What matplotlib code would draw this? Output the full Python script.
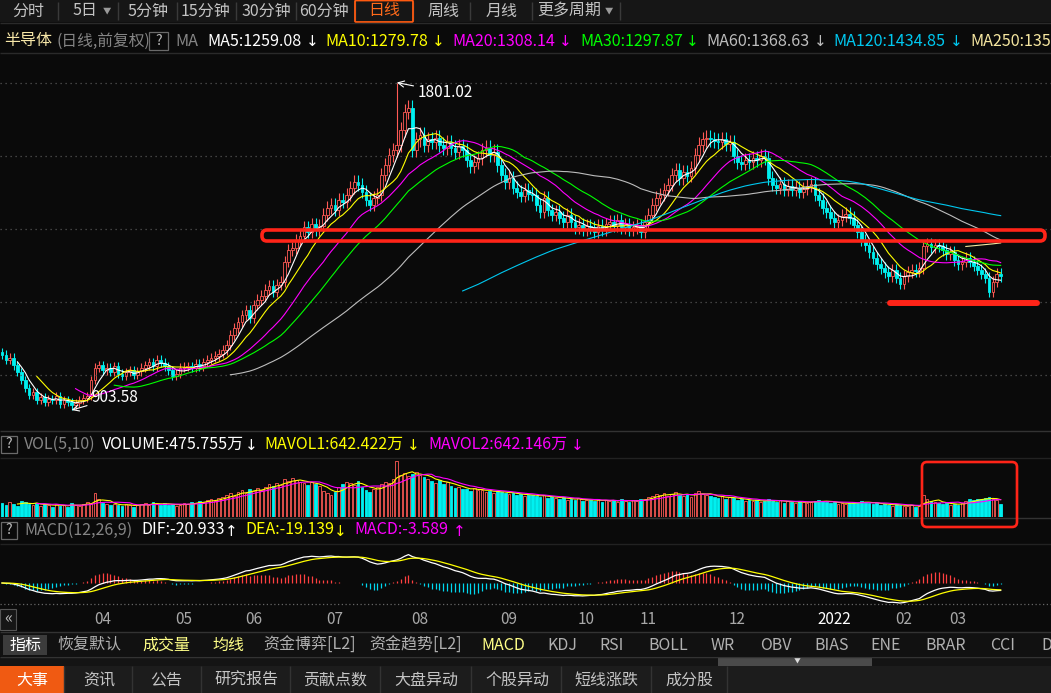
import matplotlib
matplotlib.use("Agg")
import matplotlib.pyplot as plt
from matplotlib.patches import Rectangle, FancyBboxPatch
from matplotlib.lines import Line2D
import numpy as np
import pandas as pd

plt.rcParams['font.family'] = ['Noto Sans CJK SC', 'DejaVu Sans']

#####  data  #####

# daily closes of the index, one per trading day (Mar 2021 - Mar 2022)
closes = [1055, 1041, 1047, 1027, 1008,
          986, 964, 945, 953,
          931, 940, 926,
          934, 931, 942, 920, 931, 926, 917, 923,
          931, 937, 942,
          986, 1019, 1027,
          1013, 1019, 1008, 1024,
          1003, 997, 1008, 1013, 1000, 1010,
          1019, 1027, 1035, 1024, 1041, 1033, 1024,
          1013, 997, 1003, 1019,
          1022, 1024, 1019, 1030, 1024,
          1035, 1041, 1047, 1052, 1058, 1068,
          1082, 1110, 1129,
          1145, 1164, 1178, 1156,
          1192, 1206, 1217,
          1233, 1244, 1228, 1247, 1255,
          1310, 1343, 1348,
          1370, 1381,
          1404, 1392, 1414, 1398, 1409,
          1439, 1458, 1466, 1452,
          1480, 1474, 1494,
          1513, 1529, 1521, 1502,
          1480, 1466, 1485, 1494,
          1549, 1576, 1603,
          1617, 1631, 1672, 1721, 1732,
          1617, 1645, 1658, 1631, 1645,
          1639, 1650, 1631, 1623, 1639,
          1623, 1612, 1628, 1617,
          1590, 1573, 1584, 1595,
          1617, 1623, 1603, 1612,
          1576, 1549, 1529, 1540,
          1513, 1502, 1491, 1507, 1496,
          1494, 1466, 1447, 1485, 1452, 1439,
          1447, 1431, 1420, 1439,
          1420, 1404, 1412, 1398, 1409,
          1404, 1392, 1409, 1398, 1414,
          1420, 1409, 1425, 1404, 1414,
          1398, 1404, 1409, 1392,
          1420, 1439,
          1466, 1485,
          1494, 1507, 1521,
          1549, 1562,
          1540, 1557, 1546, 1568,
          1603, 1631, 1645,
          1650, 1645,
          1642, 1639, 1645, 1634, 1639,
          1601,
          1584, 1579, 1590, 1584,
          1595, 1590, 1601, 1595,
          1540,
          1521, 1513, 1524, 1507, 1518,
          1507, 1513, 1502, 1510, 1518,
          1524, 1494, 1480,
          1458, 1447,
          1431, 1420, 1425, 1436,
          1442, 1431,
          1411, 1392, 1370,
          1356, 1337,
          1321, 1304, 1293,
          1282, 1271, 1288, 1266,
          1249, 1271,
          1282, 1288, 1285, 1293,
          1354,
          1359, 1351, 1356, 1354,
          1343, 1332, 1337,
          1315, 1304, 1310,
          1321, 1310, 1299,
          1288, 1277, 1266,
          1228,
          1255,
          1277, 1271]
first_open = 1062
marked_high = (102, 1801.02)
marked_low = (18, 903.58)

# daily volume, in 万
volumes = [518, 444, 555, 481, 407, 592,
           555, 481, 444, 518, 407, 481,
           444, 370, 481, 407, 444, 370, 518, 444,
           407, 481, 555,
           518, 888, 666, 518, 481, 444, 481,
           444, 407, 481, 444, 370, 444,
           481, 518, 444, 555, 481, 444, 518,
           444, 481, 407, 444,
           518, 481, 555, 518, 592,
           555, 629, 666, 592, 703, 740,
           814, 888, 777,
           925, 999, 888, 1036,
           962, 1073, 999,
           1110, 1221, 1147, 1258, 1184,
           1406, 1332, 1443,
           1369, 1295,
           1258, 1184, 1295, 1221, 1147,
           962, 888, 814, 925,
           1110, 1221, 1295,
           1258, 1184, 1332, 1110,
           999, 925, 1036, 1110,
           1221, 1295, 1258,
           1406, 2072, 1554,
           1628, 1517, 1591,
           1665, 1554,
           1480, 1406,
           1332, 1258, 1369, 1221, 1295,
           1147, 1073, 1110, 1036,
           1036, 962, 1073, 999,
           999, 925, 962, 888,
           962, 925, 888, 851,
           888, 814, 851, 777, 814,
           814, 777, 740, 814, 703, 740,
           703, 666, 740, 629,
           666, 629, 703, 592, 629,
           629, 592, 666, 555, 629,
           592, 629, 555, 666, 592,
           555, 629, 592, 666,
           666, 740,
           777, 851,
           814, 888, 777,
           851, 925,
           814, 777, 851, 740,
           888, 962, 851,
           814, 777,
           740, 703, 777, 666, 740,
           703,
           629, 666, 592, 629,
           592, 629, 555, 592,
           666,
           592, 555, 629, 518, 592,
           555, 518, 592, 555, 518,
           555, 592, 629,
           592, 555,
           518, 555, 481, 518,
           481, 518,
           555, 518, 592,
           555, 518,
           481, 518, 444,
           481, 444, 407, 481,
           444, 407,
           407, 444, 370, 407,
           814,
           666, 592, 555, 518,
           481, 518, 444,
           481, 444, 518,
           592, 666, 629, 666, 657,
           703, 740, 666, 627, 475.755]

month_ticks = [26, 47, 65, 86, 108, 131, 151, 167, 190, 215, 233, 247]
month_labels = ["04", "05", "06", "07", "08", "09", "10", "11", "12", "2022", "02", "03"]

ma_periods = [5, 10, 20, 30, 60, 120, 250]
ma_colors = ["#ffffff", "#ffff00", "#ff00ff", "#00ff00", "#bdbdbd", "#00c8f0", "#f5e6a0"]

top_tabs = ["分时", "5日", "5分钟", "15分钟", "30分钟", "60分钟", "日线", "周线", "月线", "更多周期"]
top_tab_x = [28, 85, 148, 206, 266, 324, 384, 443, 502, 569]
top_tab_seps = [58, 118, 177, 236, 296, 355, 413, 470, 532, 620]

ind_tabs = ["恢复默认", "成交量", "均线", "资金博弈[L2]", "资金趋势[L2]", "MACD", "KDJ", "RSI",
            "BOLL", "WR", "OBV", "BIAS", "ENE", "BRAR", "CCI", "D"]
ind_tab_x = [89, 166, 228, 309, 416, 503, 562, 612, 668, 723, 776, 832, 886, 946, 1003, 1047]
ind_yellow = ["成交量", "均线", "MACD"]

bottom_tabs = ["资讯", "公告", "研究报告", "贡献点数", "大盘异动", "个股异动", "短线涨跌", "成分股"]
bottom_tab_x = [99, 166, 246, 335, 426, 517, 606, 689]
bottom_tab_seps = [64, 132, 201, 290, 380, 471, 561, 651, 727]

assert len(closes) == len(volumes)

#####  derived series  #####

c = pd.Series(closes, dtype=float)
o = pd.Series([first_open] + closes[:-1], dtype=float)
up = (c >= o).values
hi = np.maximum(o, c) * 1.012
lo = np.minimum(o, c) * 0.988
hi[marked_high[0]] = marked_high[1]
lo[marked_low[0]] = marked_low[1]
days = np.arange(len(c))

v = pd.Series(volumes, dtype=float)
ema12 = c.ewm(span=12, adjust=False).mean()
ema26 = c.ewm(span=26, adjust=False).mean()
dif = ema12 - ema26
dea = dif.ewm(span=9, adjust=False).mean()
macd = 2 * (dif - dea)

#####  figure helpers (pixel coords of the screenshot)  #####

W, H = 1051, 693
BG = "#0a0a0a"
RED = "#ff5a55"
CYAN = "#00f0f0"
fig = plt.figure(figsize=(W / 100, H / 100), dpi=100, facecolor=BG)


def fx(x):
    return x / W


def fy(y):
    return 1 - y / H


def box(x0, y0, x1, y1, fc, ec="none", lw=0):
    fig.add_artist(Rectangle((fx(x0), fy(y1)), fx(x1) - fx(x0), fy(y0) - fy(y1),
                             transform=fig.transFigure, facecolor=fc, edgecolor=ec, linewidth=lw))


def rbox(x0, y0, x1, y1, ec, lw, r=5):
    fig.add_artist(FancyBboxPatch((fx(x0), fy(y1)), fx(x1) - fx(x0), fy(y0) - fy(y1),
                                  boxstyle="round,pad=0,rounding_size=%f" % (r / W),
                                  mutation_aspect=W / H, transform=fig.transFigure,
                                  facecolor="none", edgecolor=ec, linewidth=lw, zorder=20))


def line(x0, y0, x1, y1, color="#2e2e2e", lw=1, ls="-", cap="butt"):
    fig.add_artist(Line2D([fx(x0), fx(x1)], [fy(y0), fy(y1)], transform=fig.transFigure,
                          color=color, lw=lw, linestyle=ls, solid_capstyle=cap, zorder=20))


def txt(x, y, s, color, size=11, ha="left"):
    fig.text(fx(x), fy(y), s, color=color, fontsize=size, ha=ha, va="center")


def arrow(x, y, s, color):
    # the little up/down arrows after each legend value
    fig.text(fx(x), fy(y), s, color=color, fontsize=11, ha="center", va="center",
             family="DejaVu Sans")


def panel(y0, y1):
    ax = fig.add_axes([0, fy(y1), 1, fy(y0) - fy(y1)])
    ax.set_facecolor(BG)
    for sp in ax.spines.values():
        sp.set_visible(False)
    ax.set_xticks([])
    ax.set_yticks([])
    ax.set_xlim(-0.52, 271)
    return ax


#####  price panel  #####

ax_p = panel(53, 430)
ax_p.set_ylim(849, 1882)
for lvl in [1000, 1200, 1400, 1600, 1800]:
    ax_p.axhline(lvl, color="#555555", lw=0.9, ls=(0, (1, 3)))

body_lo = np.minimum(o, c).values
body_hi = np.maximum(o, c).values
body_h = np.maximum(body_hi - body_lo, 1.5)
for is_up, col in [(True, RED), (False, CYAN)]:
    m = up == is_up
    ax_p.vlines(days[m], hi[m], body_hi[m], color=col, lw=0.8)
    ax_p.vlines(days[m], lo[m], body_lo[m], color=col, lw=0.8)
    ax_p.bar(days[m], body_h[m], bottom=body_lo[m], width=0.7,
             facecolor=BG if is_up else col, edgecolor=col, linewidth=0.6)

for n, col in zip(ma_periods, ma_colors):
    ax_p.plot(days, c.rolling(n).mean(), color=col, lw=0.8)

ax_p.annotate("1801.02", xy=marked_high, xytext=(15, -7), textcoords="offset points",
              color="white", fontsize=11, va="center", ha="left",
              arrowprops=dict(arrowstyle="->", color="white", lw=0.8, shrinkA=1, shrinkB=0))
ax_p.annotate("903.58", xy=marked_low, xytext=(14, 9), textcoords="offset points",
              color="white", fontsize=11, va="center", ha="left",
              arrowprops=dict(arrowstyle="->", color="white", lw=0.8, shrinkA=1, shrinkB=0))

#####  volume panel  #####

ax_v = panel(458, 517)
ax_v.set_ylim(0, 2183)
for is_up, col in [(True, RED), (False, CYAN)]:
    m = up == is_up
    ax_v.bar(days[m], v[m], width=0.7, facecolor=BG if is_up else col,
             edgecolor=col, linewidth=0.6)
ax_v.plot(days, v.rolling(5).mean(), color="#ffff00", lw=0.8)
ax_v.plot(days, v.rolling(10).mean(), color="#ff00ff", lw=0.8)

#####  MACD panel  #####

ax_m = panel(545, 605)
unit = max(dif.max() / 35, -dif.min() / 20, dea.max() / 35, -dea.min() / 20)
ax_m.set_ylim(-22 * unit, 38 * unit)
ax_m.vlines(days[macd >= 0], 0, macd[macd >= 0], color="#ff4040", lw=0.9)
ax_m.vlines(days[macd < 0], 0, macd[macd < 0], color="#00d8f0", lw=0.9)
ax_m.plot(days, dif, color="white", lw=0.9)
ax_m.plot(days, dea, color="#ffff00", lw=0.9)

#####  x axis labels row  #####

ax_x = panel(606, 632)
ax_x.set_ylim(0, 1)
for t, lab in zip(month_ticks, month_labels):
    ax_x.text(t, 0.5, lab, color="white" if lab == "2022" else "#a8a8a8",
              fontsize=11, ha="center", va="center")

#####  chrome: tab bar, legends, separators  #####

box(0, 0, W, 22, "#161616")
for sx in top_tab_seps:
    line(sx, 2, sx, 20, color="#3a3a3a")
rbox(355, 0.5, 413, 22, "#ff5a10", 1.3, r=1)
for lab, x in zip(top_tabs, top_tab_x):
    txt(x, 11, lab, "#ff6a1a" if lab == "日线" else "#c4c4c4", size=11.5, ha="center")
txt(107, 11, "▼", "#9a9a9a", size=6, ha="center")
txt(609, 11, "▼", "#9a9a9a", size=6, ha="center")
line(0, 23, W, 23, color="#2a2a2a")
line(0, 53, W, 53, color="#2a2a2a")

# MA legend
txt(4, 41, "半导体", "#f8e8a8", size=11.5)
txt(56, 41, "(日线,前复权)", "#858585", size=11.3)
box(149, 32, 168, 50, "none", ec="#6a6a6a", lw=0.9)
txt(158.5, 41, "?", "#bdbdbd", size=10, ha="center")
txt(175, 41, "MA", "#858585", size=11.7)
ma_text = [("MA5:1259.08", 207, 312), ("MA10:1279.78", 325, 438), ("MA20:1308.14", 452, 565),
           ("MA30:1297.87", 580, 692), ("MA60:1368.63", 706, 820), ("MA120:1434.85", 833, 956)]
for (s, x, ax_), col in zip(ma_text, ma_colors):
    txt(x, 41, s, col, size=11.6)
    arrow(ax_, 42, "↓", col)
txt(970, 41, "MA250:135", ma_colors[-1], size=11.6)

# VOL legend
line(0, 431, W, 431, color="#333333")
box(1, 436, 17, 453, "none", ec="#6a6a6a", lw=0.9)
txt(9, 444.5, "?", "#bdbdbd", size=10, ha="center")
txt(24, 444, "VOL(5,10)", "#858585", size=11.5)
txt(102, 444, "VOLUME:475.755万", "#ffffff", size=11.5)
arrow(251, 445, "↓", "#ffffff")
txt(264, 444, "MAVOL1:642.422万", "#ffff00", size=11.5)
arrow(413, 445, "↓", "#ffff00")
txt(428, 444, "MAVOL2:642.146万", "#ff00ff", size=11.5)
arrow(577, 445, "↓", "#ff00ff")
line(0, 458, W, 458, color="#222222")

# MACD legend
line(0, 518, W, 518, color="#333333")
box(1, 522, 17, 539, "none", ec="#6a6a6a", lw=0.9)
txt(9, 530.5, "?", "#bdbdbd", size=10, ha="center")
txt(24, 530, "MACD(12,26,9)", "#858585", size=11.5)
txt(141, 530, "DIF:-20.933", "#ffffff", size=11.5)
arrow(231, 531, "↑", "#ffffff")
txt(245, 530, "DEA:-19.139", "#ffff00", size=11.5)
arrow(340, 531, "↓", "#ffff00")
txt(354, 530, "MACD:-3.589", "#ff00ff", size=11.5)
arrow(459, 531, "↑", "#ff00ff")
line(0, 544, W, 544, color="#222222")
line(0, 604, W, 604, color="#666666", lw=0.9, ls=(0, (1, 2)))

# red hand-drawn marks
rbox(262, 230, 1045, 241, "#ff2418", 2.6, r=5)
line(890, 303.5, 1037, 303.5, color="#ff2418", lw=4.3, cap="round")
rbox(922, 462, 1017, 527, "#ff2418", 1.9, r=5)

# scroll button
box(0, 609, 16, 630, "#161616", ec="#555555", lw=0.8)
txt(8, 619, "«", "#bdbdbd", size=12, ha="center")

# indicator row
line(0, 632, W, 632, color="#333333")
box(0, 633, W, 656, "#111111")
box(3, 635, 47, 655, "#3c3c3c")
txt(25, 645, "指标", "#ffffff", size=11.5, ha="center")
for lab, x in zip(ind_tabs, ind_tab_x):
    txt(x, 645, lab, "#ffff88" if lab in ind_yellow else "#b0b0b0", size=11.5, ha="center")
line(0, 656.5, W, 656.5, color="#333333")

# scroll bar
box(0, 657, W, 666, "#141414")
box(718, 657, 872, 666, "#4a4a4a")
txt(797, 661, "▼", "#dddddd", size=5, ha="center")

# bottom tabs
box(0, 666, W, H, "#1c1c1c")
box(0, 666, 64, H, "#f05a12")
txt(32, 680, "大事", "#ffffff", size=11.5, ha="center")
for sx in bottom_tab_seps:
    line(sx, 666, sx, H, color="#333333")
for lab, x in zip(bottom_tabs, bottom_tab_x):
    txt(x, 680, lab, "#c4c4c4", size=11.5, ha="center")

fig.savefig("out.png", dpi=100, facecolor=BG)
